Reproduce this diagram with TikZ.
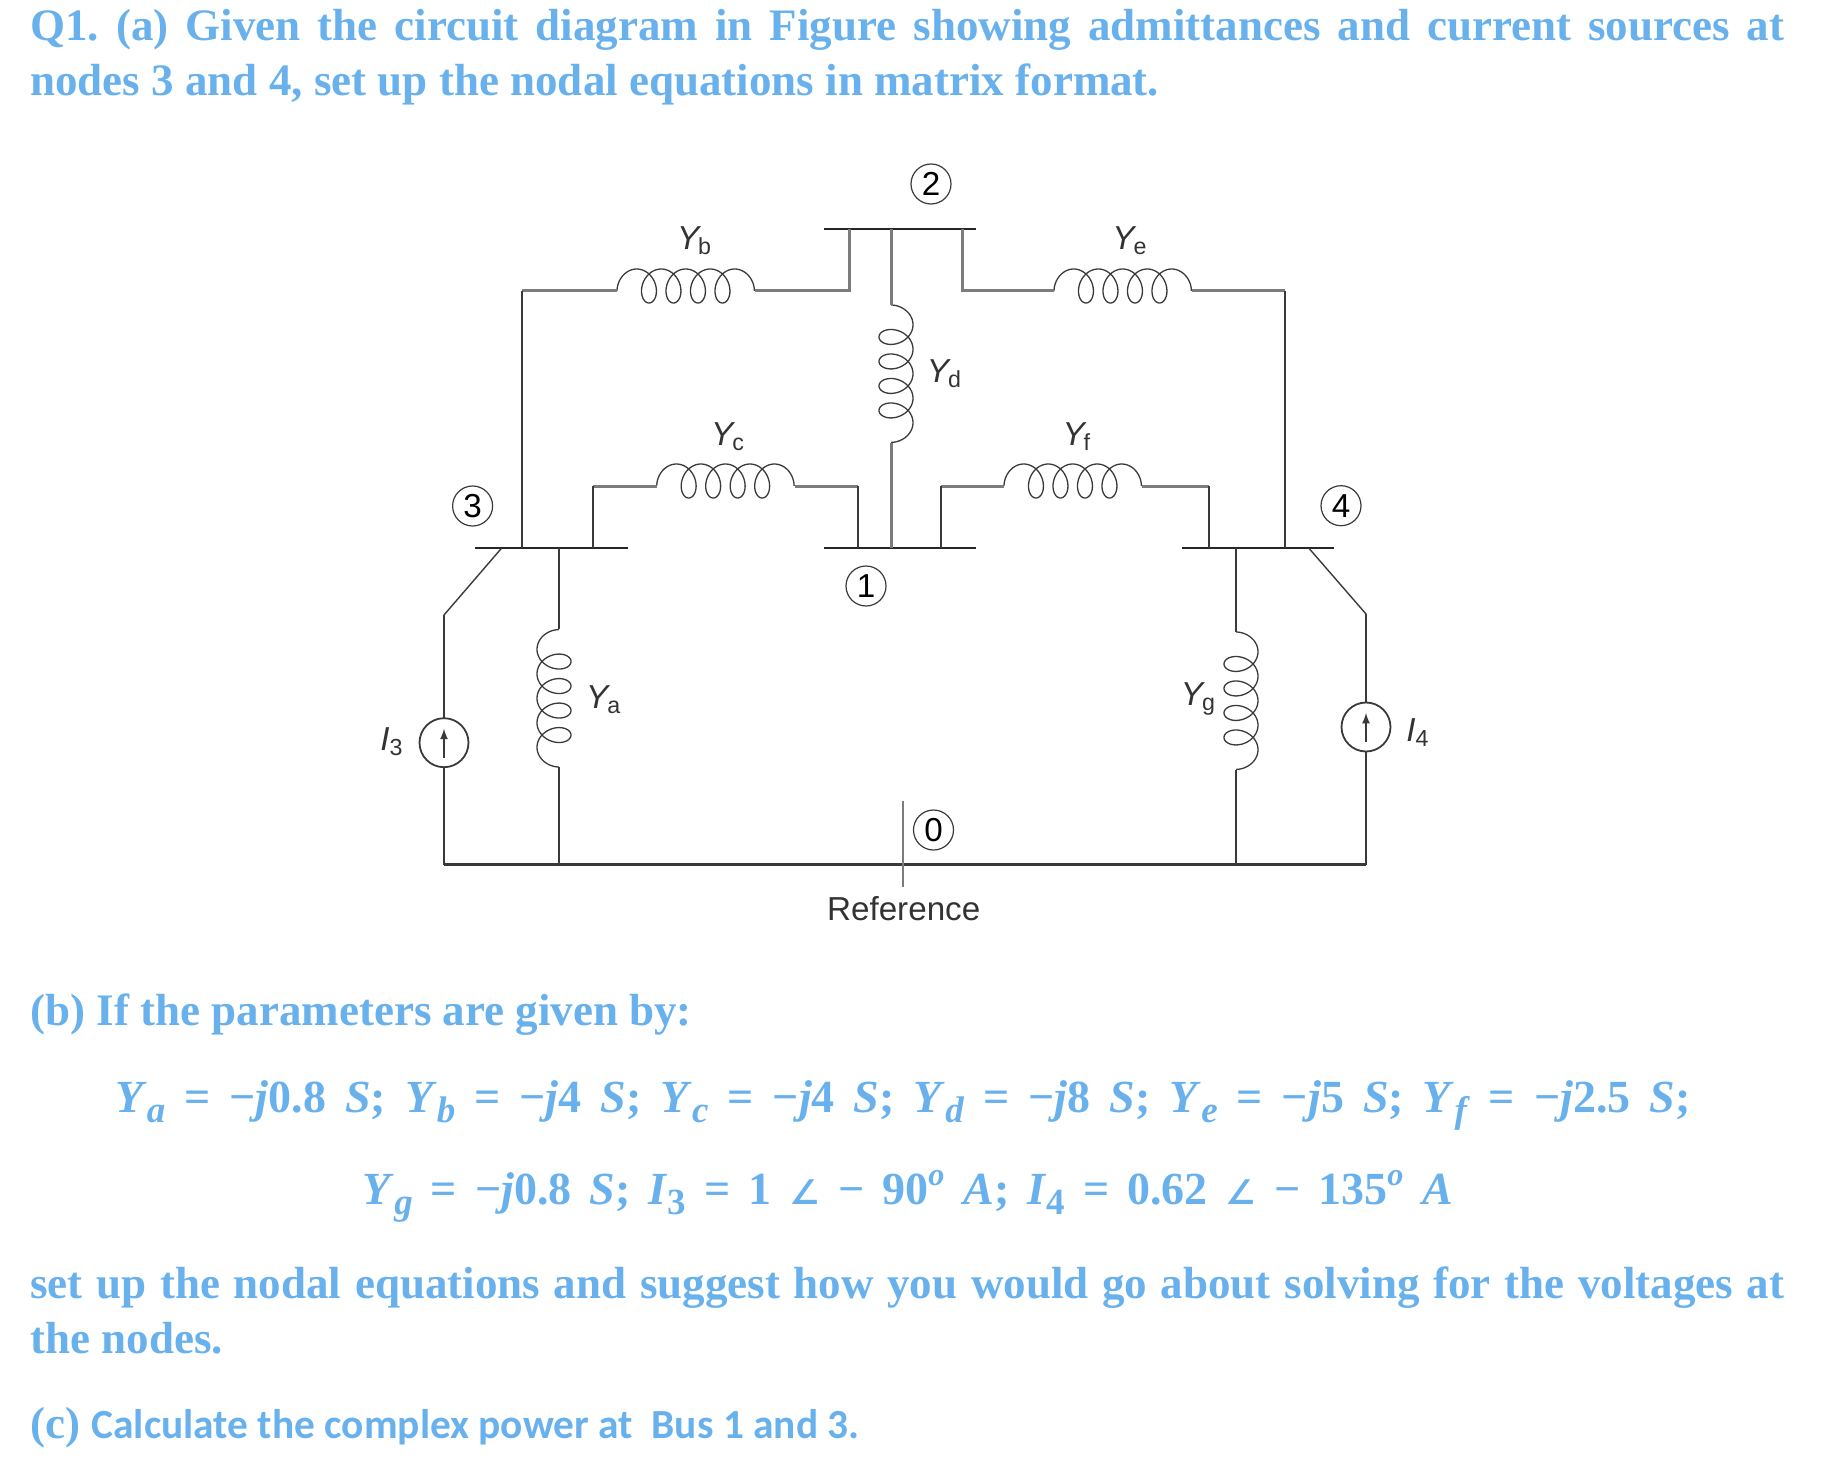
\documentclass[tikz,border=0pt]{standalone}
\usepackage{fontspec}
\setmainfont{Liberation Serif}
\newfontfamily\labelfont{Liberation Sans}
\newfontfamily\calcfont{Carlito}
\newfontfamily\anglefont{DejaVu Sans}
\usetikzlibrary{arrows,positioning,shapes}
\definecolor{qblue}{HTML}{69B1EC}
\definecolor{heavygray}{HTML}{7C7C7C}
\definecolor{wiregray}{HTML}{3A3A3A}
\frenchspacing
\newcommand{\admit}[1]{\textit{Y}\kern-1.5pt\textsubscript{#1}}
\newcommand{\vrb}[1]{\textit{#1}}
\newcommand{\eqsub}[1]{\raisebox{-5pt}{\fontsize{18.5}{19}\selectfont #1}}
\newcommand{\eqY}[1]{\textit{Y}\eqsub{\textit{#1}}}
\newcommand{\eqI}[1]{\textit{I}\eqsub{#1}}
\newcommand{\degs}{\textsuperscript{\textit{o}}}
\newcommand{\angs}{{\anglefont\fontsize{17}{17}\selectfont ∠}}
\tikzset{
  wire/.style={line width=1pt, draw=wiregray},
  heavy/.style={line width=1.5pt, draw=heavygray},
  busbar/.style={line width=1pt, draw=black!85},
  busnum/.style={draw=wiregray, circle, line width=.6pt, minimum size=20pt, inner sep=0pt, font=\labelfont\fontsize{16.6}{18}\selectfont},
  source/.style={draw=wiregray, fill=white, circle, line width=.9pt, minimum size=24.5pt, inner sep=0pt},
  valtext/.style={inner sep=0pt, text=black!80, font=\labelfont\fontsize{16.6}{18}\selectfont},
  para/.style={anchor=north west, inner sep=0pt, text width=877pt, align=justify, text=qblue, font=\fontsize{22.5}{27.5}\selectfont\bfseries},
  oneline/.style={anchor=base west, inner sep=0pt, text=qblue, font=\fontsize{22.5}{24}\selectfont\bfseries},
  eqline/.style={anchor=base, inner sep=0pt, text=qblue, font=\fontsize{23}{24}\selectfont\bfseries\spaceskip 9pt\relax},
  pics/coil/.style={code={
    \draw[line width=.65pt, draw=wiregray] plot[domain=-107:1547, samples=240]
      ({0.06806*(\x+107) + 13*sin(\x) + 12.43}, {-5 - 17*cos(\x)});
  }}
}

\begin{document}
\begin{tikzpicture}[x = .5pt, y = -.5pt]
\useasboundingbox (0,0) rectangle (1835,1460);
% Question text
\node[para] (qa) at (30,9) {Q1. (a) Given the circuit diagram in Figure showing admittances and current sources at\linebreak nodes 3 and 4, set up the nodal equations in matrix format.};
\node[oneline] (qb) at (30,1025) {(b) If the parameters are given by:};
\node[eqline] (eqa) at (903,1112) {\spaceskip 9.5pt\relax\eqY{a} = −\vrb{j}0.8 \vrb{S}; \eqY{b} = −\vrb{j}4 \vrb{S}; \eqY{c} = −\vrb{j}4 \vrb{S}; \eqY{d} = −\vrb{j}8 \vrb{S}; \eqY{e} = −\vrb{j}5 \vrb{S}; \eqY{f} = −\vrb{j}2.5 \vrb{S};};
\node[eqline] (eqb) at (908,1204) {\eqY{g} = −\vrb{j}0.8 \vrb{S}; \eqI{3} = 1 \angs{} − 90\degs{} \vrb{A}; \eqI{4} = 0.62 \angs{} − 135\degs{} \vrb{A}};
\node[para] (qc) at (30,1266) {set up the nodal equations and suggest how you would go about solving for the voltages at\linebreak the nodes.};
\node[oneline] (qd) at (30,1438) {(c) {\calcfont\fontsize{20.7}{24}\selectfont Calculate the complex power at\ \ Bus 1 and 3.}};
% Bus bars
\coordinate (bus2w) at (824,228.7);
\coordinate (bus2e) at (976,228.7);
\coordinate (bus1w) at (824,548);
\coordinate (bus1e) at (976,548);
\coordinate (bus3w) at (475,548);
\coordinate (bus3e) at (628,548);
\coordinate (bus4w) at (1182,548);
\coordinate (bus4e) at (1334,548);
\draw[busbar] (bus2w) -- (bus2e);
\draw[busbar] (bus1w) -- (bus1e);
\draw[busbar] (bus3w) -- (bus3e);
\draw[busbar] (bus4w) -- (bus4e);
% Bus numbers
\node[busnum] (num2) at (931,184) {2};
\node[busnum] (num1) at (866,586) {1};
\node[busnum] (num3) at (472.6,506) {3};
\node[busnum] (num4) at (1341,505.7) {4};
\node[busnum] (num0) at (933.5,830) {0};
% Coils
\pic at (617,291) {coil};
\pic at (656.7,486) {coil};
\pic at (1054,291) {coil};
\pic at (1004,486) {coil};
\pic[rotate=-90] at (891,305) {coil};
\pic[rotate=90] at (559,767) {coil};
\pic[rotate=-90] at (1236,632) {coil};
% Coil ends
\coordinate (ybl) at (617,291);
\coordinate (ybr) at (755,291);
\coordinate (ycl) at (656.7,486);
\coordinate (ycr) at (795,486);
\coordinate (yel) at (1054,291);
\coordinate (yer) at (1192,291);
\coordinate (yfl) at (1004,486);
\coordinate (yfr) at (1142,486);
\coordinate (ydt) at (891,305);
\coordinate (ydb) at (891,443);
\coordinate (yat) at (559,629);
\coordinate (yab) at (559,767);
\coordinate (ygt) at (1236,632);
\coordinate (ygb) at (1236,770);
% Wires at the buses
\coordinate (b2a) at (849,228.7);
\coordinate (b2b) at (891,228.7);
\coordinate (b2c) at (962,228.7);
\coordinate (b1a) at (858.4,548);
\coordinate (b1b) at (891,548);
\coordinate (b1c) at (941.3,548);
\coordinate (b3a) at (522.4,548);
\coordinate (b3b) at (559,548);
\coordinate (b3c) at (592.8,548);
\coordinate (b3d) at (501.7,548);
\coordinate (b4a) at (1208.5,548);
\coordinate (b4b) at (1236,548);
\coordinate (b4c) at (1284.6,548);
\coordinate (b4d) at (1308.7,548);
% Ground line
\coordinate (gndw) at (444,864.5);
\coordinate (gnde) at (1366,864.5);
\coordinate (gndt) at (903,800.7);
\coordinate (gndb) at (903,886.7);
\draw[line width=1.3pt, draw=wiregray] (gndw) -- (gnde);
\draw[heavy, line width=1pt] (gndt) -- (gndb);
\node[valtext] (refname) at (903.7,909) {Reference};
% Branches
\draw[heavy] (b2a) |- (ybr);
\draw[heavy] (ybl) -- (ybl -| b3a);
\draw[wire] (ybl -| b3a) -- (b3a);
\draw[heavy] (b2c) |- (yel);
\draw[heavy] (yer) -- (yer -| b4c);
\draw[wire] (yer -| b4c) -- (b4c);
\draw[heavy] (ycl) -- (ycl -| b3c);
\draw[wire] (ycl -| b3c) -- (b3c);
\draw[heavy] (ycr) -- (ycr -| b1a);
\draw[wire] (ycr -| b1a) -- (b1a);
\draw[heavy] (yfl) -- (yfl -| b1c);
\draw[wire] (yfl -| b1c) -- (b1c);
\draw[heavy] (yfr) -- (yfr -| b4a);
\draw[wire] (yfr -| b4a) -- (b4a);
\draw[heavy] (b2b) -- (ydt);
\draw[heavy] (ydb) -- (b1b);
\draw[wire] (b3b) -- (yat);
\draw[wire] (yab) -- (yab |- gndw);
\draw[wire] (b4b) -- (ygt);
\draw[wire] (ygb) -- (ygb |- gndw);
% Current sources
\coordinate (bend3) at (444,615);
\coordinate (bend4) at (1366,614);
\draw[wire, line width=.7pt] (b3d) -- (bend3);
\draw[wire, line width=.7pt] (b4d) -- (bend4);
\draw[wire] (bend3) -- (gndw);
\draw[wire] (bend4) -- (gnde);
\node[source] (src3) at (444,742.7) {};
\node[source] (src4) at (1366,727) {};
\draw[wire, line width=.8pt, -latex] ([yshift=-7.5pt]src3.center) -- ([yshift=7pt]src3.center);
\draw[wire, line width=.8pt, -latex] ([yshift=-7.5pt]src4.center) -- ([yshift=7pt]src4.center);
% Labels
\node[valtext] (lya) at (603.7,700) {\admit{a}};
\node[valtext] (lyb) at (694.6,240.7) {\admit{b}};
\node[valtext] (lyc) at (728,436.7) {\admit{c}};
\node[valtext] (lyd) at (944.5,374) {\admit{d}};
\node[valtext] (lye) at (1130,240.7) {\admit{e}};
\node[valtext] (lyf) at (1076.8,436.7) {\admit{f}};
\node[valtext] (lyg) at (1198.4,698.7) {\admit{g}};
\node[valtext] (li3) at (392,741.7) {\textit{I}\textsubscript{3}};
\node[valtext] (li4) at (1418,732.6) {\textit{I}\textsubscript{4}};
\end{tikzpicture}
\end{document}
